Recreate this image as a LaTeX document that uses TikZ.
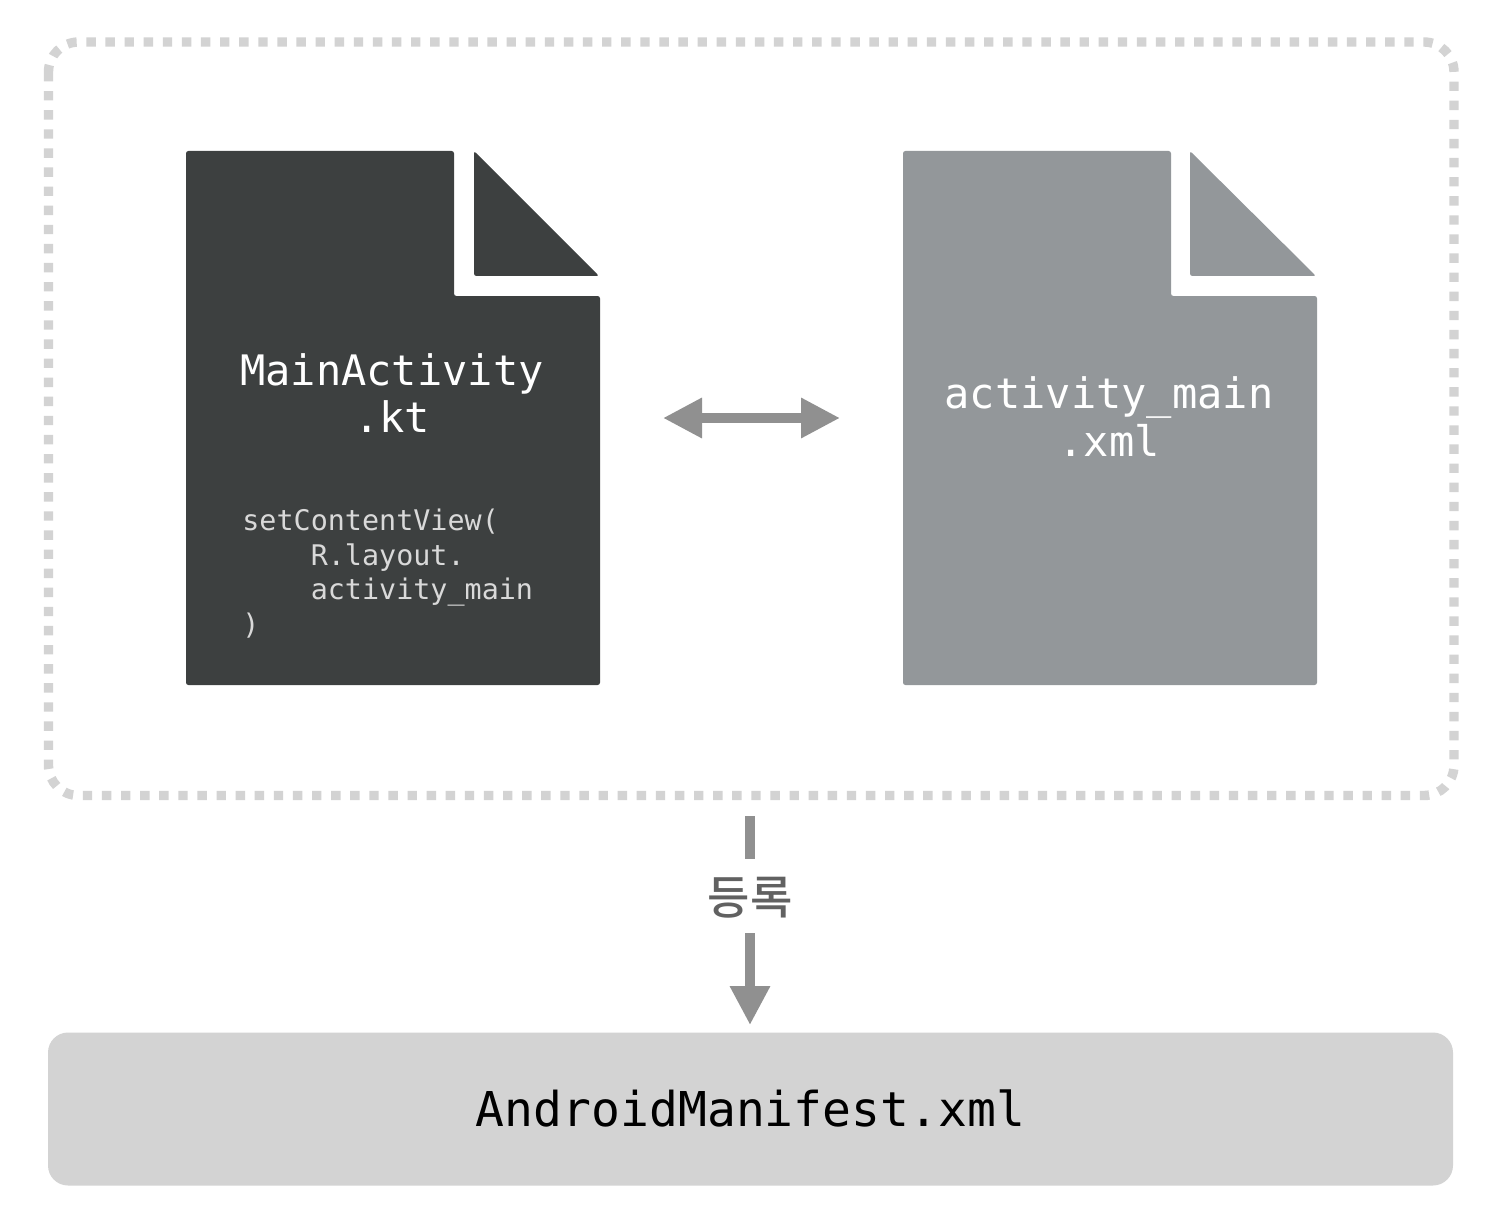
\documentclass[tikz,border=0pt]{standalone}
\usepackage{fontspec}
\setmonofont{DejaVu Sans Mono}
\newfontfamily\cjk{Noto Sans CJK KR Medium}
\usetikzlibrary{arrows.meta,positioning}
\definecolor{darkdoc}{HTML}{3D4040}
\definecolor{greydoc}{HTML}{93979A}
\definecolor{lightbox}{HTML}{D3D3D3}
\definecolor{arrowgrey}{HTML}{909090}
\tikzset{doc/.style={line width=0pt,rounded corners=1.2pt}}
\tikzset{anchorpt/.style={inner sep=0pt,outer sep=0pt}}
\tikzset{title/.style={align=center,text=white,font=\ttfamily\fontsize{21pt}{23.8pt}\selectfont}}
\tikzset{code/.style={align=left,text=white!85!black,font=\ttfamily\fontsize{14.2pt}{17.2pt}\selectfont,inner sep=0pt}}
\tikzset{link/.style={draw=arrowgrey,line width=4.7pt}}
\begin{document}
\begin{tikzpicture}[x=0.5pt,y=-0.5pt]
    \useasboundingbox (0,0) rectangle (1512,1220);

    % outer frame
    \node[anchorpt] (framenw) at (48.5,42) {};
    \node[anchorpt] (framese) at (1454,795.5) {};
    \draw[lightbox,line width=4.7pt,dash pattern=on 4.7pt off 4.85pt,rounded corners=15pt] (framenw) rectangle (framese);

    % kotlin file
    \fill[darkdoc,doc] (186,151) -- (454,151) -- (454,296) -- (600,296) -- (600,685) -- (186,685) -- cycle;
    \fill[darkdoc,doc] (474,151) -- (599,276) -- (474,276) -- cycle;

    % xml file
    \fill[greydoc,doc] (903,151) -- (1171,151) -- (1171,296) -- (1317,296) -- (1317,685) -- (903,685) -- cycle;
    \fill[greydoc,doc] (1190,151) -- (1316,276) -- (1190,276) -- cycle;

    \node[title] (kt) at (392,393) {MainActivity\\.kt};
    \node[title] (xml) at (1109,416.5) {activity{\char"5F}main\\.xml};
    \node[code,anchor=north west] (call) at (242,509) {setContentView(\\\hspace*{2.408em}R.layout.\\\hspace*{2.408em}activity{\char"5F}main\\)};

    \node[anchorpt] (left) at (662,418) {};
    \node[anchorpt] (right) at (841,418) {};
    \draw[link,{Triangle[length=19.5pt,width=19pt]}-{Triangle[length=19.5pt,width=19pt]}] (left) -- (right);

    % manifest
    \node[fill=lightbox,rounded corners=10pt,minimum width=702.5pt,minimum height=76.5pt,inner sep=0pt,font=\ttfamily\fontsize{24pt}{28pt}\selectfont] (manifest) at (750.5,1109) {\raisebox{0.8pt}{AndroidManifest.xml}};

    \node[anchorpt] (top) at (750,815) {};
    \node[text=black!62,inner sep=0pt,font=\cjk\fontsize{23pt}{26pt}\selectfont] (reg) at (750,898) {등록};
    \node[anchorpt] (split) at (750,860) {};
    \node[anchorpt] (under) at (750,932) {};
    \node[anchorpt] (tip) at (750,1026) {};
    \draw[link] (top) -- (split);
    \draw[link,-{Triangle[length=19.5pt,width=19pt]}] (under) -- (tip);
\end{tikzpicture}
\end{document}
